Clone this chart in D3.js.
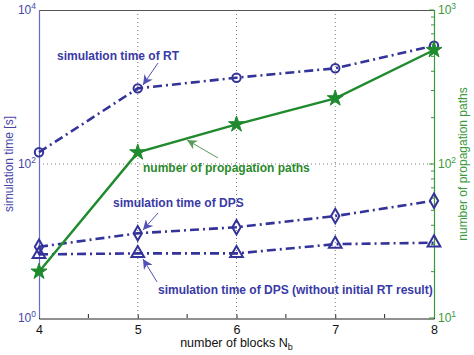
<!DOCTYPE html>
<html><head><meta charset="utf-8">
<script src="https://cdn.jsdelivr.net/npm/d3@7"></script>
<style>body{margin:0;background:#fff}svg{display:block}text{font-family:"Liberation Sans",Arial,sans-serif}</style>
</head><body><svg id="c" width="474" height="355"></svg>
<script>
const blocks = [4, 5, 6, 7, 8];
const timeRT = [142, 960, 1320, 1750, 3440];
const timeDPS = [8.4, 12.6, 15.1, 21.1, 33.4];
const timeDPSnoRT = [6.7, 6.9, 6.9, 9.1, 9.5];
const propPaths = [20, 119, 181, 267, 550];
const leftTicks = [1, 100, 10000];
const leftTickExp = ["0", "2", "4"];
const rightTicks = [10, 100, 1000];
const rightTickExp = ["1", "2", "3"];
const annotations = [
  {text: "simulation time of RT", tx: 4.182, ty: 2243, ax0: 5.205, ay0: 2050, ax1: 5.053, ay1: 1062, kind: "blue"},
  {text: "number of propagation paths", tx: 5.053, ty: 78.7, ax0: 5.813, ay0: 119.7, ax1: 5.499, ay1: 205, kind: "green"},
  {text: "simulation time of DPS", tx: 4.749, ty: 27.7, ax0: 5.205, ay0: 23.1, ax1: 5.053, ay1: 13.9, kind: "blue"},
  {text: "simulation time of DPS (without initial RT result)", tx: 5.205, ty: 2.05, ax0: 5.195, ay0: 2.94, ax1: 5.053, ay1: 5.84, kind: "blue"}
];

const L = 39, R = 434, T = 10, B = 318;
const blue = "#33339a", green = "#1f8a2e";
const svg = d3.select("#c");
const x = d3.scaleLinear().domain([4, 8]).range([L, R]);
const yL = d3.scaleLog().domain([1, 1e4]).range([B, T]);
const yR = d3.scaleLog().domain([10, 1000]).range([B, T]);

// grid
const grid = svg.append("g").attr("stroke", "#777").attr("stroke-width", 1).attr("stroke-dasharray", "1,3");
[5, 6, 7].forEach(v => grid.append("line").attr("x1", x(v)).attr("x2", x(v)).attr("y1", T).attr("y2", B));
grid.append("line").attr("x1", L).attr("x2", R).attr("y1", yL(100)).attr("y2", yL(100));

// top border
svg.append("line").attr("x1", L).attr("x2", R).attr("y1", T + 0.5).attr("y2", T + 0.5).attr("stroke", "#555");

// bottom axis
const xAxis = d3.axisBottom(x).tickValues(blocks).tickSize(-4).tickPadding(7).tickFormat(d3.format("d"));
const gx = svg.append("g").attr("transform", `translate(0,${B + 0.5})`).call(xAxis);
gx.select(".domain").attr("stroke", "#222");
gx.selectAll(".tick line").attr("stroke", "#222");
gx.selectAll("text").attr("font-size", 12.5).attr("fill", "#111");
// minor x ticks
const minorX = d3.range(4.5, 8, 1);
svg.append("g").selectAll("line").data(minorX).join("line")
  .attr("x1", d => x(d)).attr("x2", d => x(d)).attr("y1", B).attr("y2", B - 4).attr("stroke", "#222");

// left axis
svg.append("line").attr("x1", L + 0.5).attr("x2", L + 0.5).attr("y1", T).attr("y2", B).attr("stroke", "#6a6ac8").attr("stroke-width", 1.2);
const lt = svg.append("g");
leftTicks.forEach((v, i) => {
  const g = lt.append("g").attr("transform", `translate(${L - 3},${yL(v)})`);
  const t = g.append("text").attr("text-anchor", "end").attr("fill", "#4646a8").attr("font-size", 12).attr("dy", "0.35em");
  t.append("tspan").text("10");
  t.append("tspan").attr("font-size", 8.5).attr("dy", "-0.6em").text(leftTickExp[i]);
});
// right axis
svg.append("line").attr("x1", R + 0.5).attr("x2", R + 0.5).attr("y1", T).attr("y2", B).attr("stroke", "#3a9a3a").attr("stroke-width", 1.2);
const rMinor = [];
[10, 100].forEach(d => { for (let k = 2; k <= 9; k++) rMinor.push(d * k); });
svg.append("g").selectAll("line").data(rMinor).join("line")
  .attr("x1", R).attr("x2", R - 3).attr("y1", d => yR(d)).attr("y2", d => yR(d)).attr("stroke", "#3a9a3a");
svg.append("g").selectAll("line").data(rightTicks).join("line")
  .attr("x1", R).attr("x2", R - 5).attr("y1", d => yR(d)).attr("y2", d => yR(d)).attr("stroke", "#3a9a3a");
const rt = svg.append("g");
rightTicks.forEach((v, i) => {
  const g = rt.append("g").attr("transform", `translate(${R + 4},${yR(v)})`);
  const t = g.append("text").attr("text-anchor", "start").attr("fill", "#3a9a3a").attr("font-size", 12).attr("dy", "0.35em");
  t.append("tspan").text("10");
  t.append("tspan").attr("font-size", 8.5).attr("dy", "-0.6em").text(rightTickExp[i]);
});

// axis labels
svg.append("text").attr("transform", `translate(13,${(T + B) / 2}) rotate(-90)`).attr("text-anchor", "middle")
  .attr("font-size", 12).attr("fill", "#4646a8").text("simulation time [s]");
svg.append("text").attr("transform", `translate(467,${(T + B) / 2}) rotate(-90)`).attr("text-anchor", "middle")
  .attr("font-size", 12).attr("fill", "#3a9a3a").text("number of propagation paths");
const xl = svg.append("text").attr("x", (L + R) / 2).attr("y", 347).attr("text-anchor", "middle").attr("font-size", 12.5).attr("fill", "#111");
xl.append("tspan").text("number of blocks N");
xl.append("tspan").attr("font-size", 9).attr("dy", "0.35em").text("b");

// series
const dash = "9,4,2,4";
function lineFor(ys, scale) {
  return d3.line().x((d, i) => x(blocks[i])).y(d => scale(d))(ys);
}
[timeRT, timeDPS, timeDPSnoRT].forEach(s => {
  svg.append("path").attr("d", lineFor(s, yL)).attr("fill", "none").attr("stroke", blue).attr("stroke-width", 2.6).attr("stroke-dasharray", dash);
});
svg.append("path").attr("d", lineFor(propPaths, yR)).attr("fill", "none").attr("stroke", green).attr("stroke-width", 2.4);

// markers
svg.append("g").selectAll("circle").data(timeRT).join("circle")
  .attr("cx", (d, i) => x(blocks[i])).attr("cy", d => yL(d)).attr("r", 4.2)
  .attr("fill", "none").attr("stroke", blue).attr("stroke-width", 2);
const diamond = d3.symbol().type(d3.symbolDiamond).size(60);
svg.append("g").selectAll("path").data(timeDPS).join("path")
  .attr("transform", (d, i) => `translate(${x(blocks[i])},${yL(d)})`).attr("d", diamond)
  .attr("fill", "none").attr("stroke", blue).attr("stroke-width", 2);
const tri = d3.symbol().type(d3.symbolTriangle).size(70);
svg.append("g").selectAll("path").data(timeDPSnoRT).join("path")
  .attr("transform", (d, i) => `translate(${x(blocks[i])},${yL(d)})`).attr("d", tri)
  .attr("fill", "none").attr("stroke", blue).attr("stroke-width", 2);
const star = d3.symbol().type(d3.symbolStar).size(80);
svg.append("g").selectAll("path").data(propPaths).join("path")
  .attr("transform", (d, i) => `translate(${x(blocks[i])},${yR(d)})`).attr("d", star)
  .attr("fill", green).attr("stroke", green).attr("stroke-width", 1);

// annotations
const defs = svg.append("defs");
[["blue", "#5252b4"], ["green", "#5a9a5a"]].forEach(([k, c]) => {
  defs.append("marker").attr("id", "ah-" + k).attr("viewBox", "0 0 10 10").attr("refX", 10).attr("refY", 5)
    .attr("markerWidth", 10).attr("markerHeight", 10).attr("markerUnits", "userSpaceOnUse").attr("orient", "auto")
    .append("path").attr("d", "M0,0 L10,5 L0,10 L3,5 Z").attr("fill", c);
});
annotations.forEach(a => {
  const c = a.kind === "blue" ? "#5252b4" : "#5a9a5a";
  svg.append("line").attr("x1", x(a.ax0)).attr("y1", yL(a.ay0)).attr("x2", x(a.ax1)).attr("y2", yL(a.ay1))
    .attr("stroke", c).attr("stroke-width", 1).attr("marker-end", `url(#ah-${a.kind})`);
  svg.append("text").attr("x", x(a.tx)).attr("y", yL(a.ty)).attr("font-size", 12).attr("font-weight", "bold")
    .attr("fill", a.kind === "blue" ? "#3a3aa6" : "#2a8a2a").text(a.text);
});
</script></body></html>
